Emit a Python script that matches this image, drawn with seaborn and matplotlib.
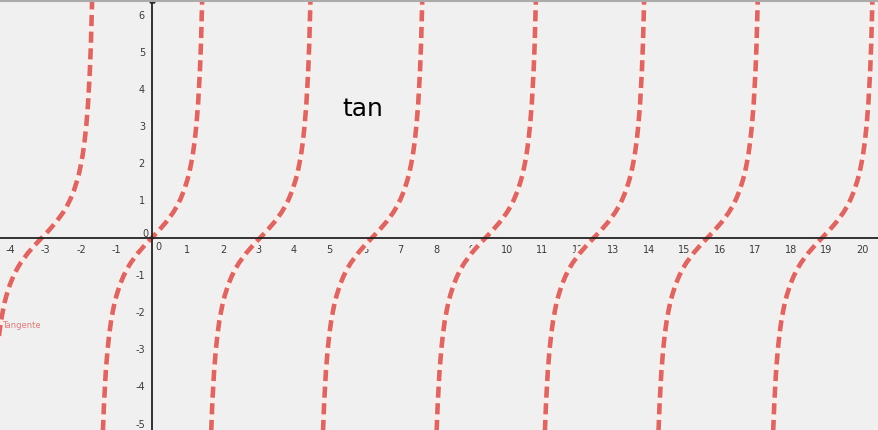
import numpy as np
import pandas as pd
import seaborn as sns
import matplotlib.pyplot as plt
from matplotlib.lines import Line2D

# zero crossings of each visible branch
branch_centers = [-3.10, 0.0, 3.05, 6.20, 9.40, 12.45, 15.65, 18.88]

# one half-branch (offset from the zero crossing -> value)
half_offsets = [0.0, 0.1, 0.2, 0.3, 0.4, 0.5, 0.6, 0.7, 0.8, 0.9, 1.0,
                1.05, 1.1, 1.15, 1.2, 1.25, 1.3, 1.35, 1.38, 1.42, 1.45]
half_values = [0.0, 0.10, 0.20, 0.31, 0.42, 0.55, 0.68, 0.84, 1.03, 1.26, 1.56,
               1.74, 1.97, 2.23, 2.57, 3.01, 3.60, 4.46, 5.18, 6.58, 8.24]

x_ticks = [-4, -3, -2, -1, 1, 2, 3, 4, 5, 6, 7, 8, 9, 10, 11, 12, 13, 14, 15,
           16, 17, 18, 19, 20]
y_ticks = [-5, -4, -3, -2, -1, 1, 2, 3, 4, 5, 6]

# the curve is odd around each zero, so mirror the half branch
offs = [-o for o in half_offsets[:0:-1]] + half_offsets
vals = [-v for v in half_values[:0:-1]] + half_values

rows = []
for i, c in enumerate(branch_centers):
    for o, v in zip(offs, vals):
        rows.append({"x": c + o, "y": v, "branch": i})
df = pd.DataFrame(rows)

sns.set_style("white", {"axes.facecolor": "#f0f0f0"})
plt.rcParams["font.family"] = ["DejaVu Sans"]
plt.rcParams["lines.scale_dashes"] = False

fig = plt.figure(figsize=(8.79, 4.30), dpi=100, facecolor="#f0f0f0")
ax = fig.add_axes([0, 0, 1, 1])

# faint halo under the dashes
sns.lineplot(data=df, x="x", y="y", units="branch", estimator=None, sort=False,
             color="#f8eeec", linewidth=6.5, ax=ax, legend=False)
n_halo = len(ax.lines)
sns.lineplot(data=df, x="x", y="y", units="branch", estimator=None, sort=False,
             color="#db6663", linewidth=3.3, ax=ax, legend=False)
for line in ax.lines[n_halo:]:
    line.set_dashes((8, 4))
    line.set_dash_capstyle("butt")

ax.set_xlim(-4.28, 20.48)
ax.set_ylim(-5.17, 6.39)

for s in ["top", "right"]:
    ax.spines[s].set_visible(False)
ax.spines["left"].set_position(("data", 0))
ax.spines["bottom"].set_position(("data", 0))
for s in ["left", "bottom"]:
    ax.spines[s].set_color("#222222")
    ax.spines[s].set_linewidth(1.3)

ax.set_xticks(x_ticks)
ax.set_yticks(y_ticks)
ax.set_xticklabels([str(t) for t in x_ticks])
ax.set_yticklabels([str(t) for t in y_ticks])
ax.tick_params(axis="both", direction="out", length=3, width=1, color="#222222",
               labelsize=7, labelcolor="#3a3a3a", pad=2)
ax.set_xlabel("")
ax.set_ylabel("")

ax.annotate("0", xy=(0, 0), xytext=(4.5, -7), textcoords="offset points",
            fontsize=7, color="#3a3a3a", ha="center", va="center")
ax.annotate("0", xy=(0, 0), xytext=(-5, 2.5), textcoords="offset points",
            fontsize=7, color="#3a3a3a", ha="center", va="center")

# small arrow at the top of the y axis
ax.plot([0], [1], marker="^", markersize=3.5, color="#222222",
        transform=ax.get_xaxis_transform(), clip_on=False)

ax.text(-4.22, -2.35, "Tangente", fontsize=6, color="#e07a78",
        ha="left", va="center")
ax.text(5.95, 3.45, "tan", fontsize=18, color="black", ha="center", va="center")

fig.add_artist(Line2D([0, 1], [0.998, 0.998], color="#ababab", linewidth=1.5,
                      transform=fig.transFigure))

fig.savefig("out.png", dpi=100, facecolor=fig.get_facecolor())
